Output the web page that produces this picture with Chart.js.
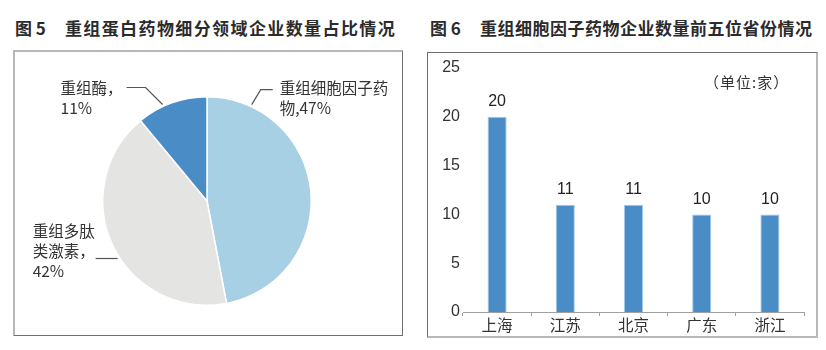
<!DOCTYPE html>
<html>
<head>
	<meta charset="utf-8">
	<title>重组蛋白药物</title>
	<script src="https://cdn.jsdelivr.net/npm/chart.js"></script>
	<style>
		body { margin: 0; background: #fff; font-family: "Noto Sans CJK SC", sans-serif; color: #2b2b2b; }
		#page { position: relative; width: 826px; height: 350px; overflow: hidden; }
		.title { position: absolute; top: 18px; font-size: 17px; line-height: 20px; font-weight: bold; white-space: nowrap; }
		.title .t { margin-left: 19px; }
		.box { position: absolute; box-sizing: border-box; }
		#box1 { left: 13px; top: 50px; width: 390px; height: 286px; border-top: 2px solid #b8b8b8; border-left: 2px solid #b8b8b8; border-right: 1px solid #6e6e6e; border-bottom: 1px solid #6e6e6e; }
		#box2 { left: 427px; top: 52px; width: 391px; height: 286px; border-top: 1px solid #6e6e6e; border-left: 1px solid #6e6e6e; border-right: 2px solid #b8b8b8; border-bottom: 2px solid #b8b8b8; }
		canvas { position: absolute; }
		#unit { position: absolute; left: 704px; top: 72px; font-size: 15px; line-height: 20px; letter-spacing: 1px; color: #333; white-space: nowrap; }
	</style>
</head>
<body>
<div id="page">
	<div class="title" style="left:15px"><span>图 5</span><span class="t" style="letter-spacing:1.4px">重组蛋白药物细分领域企业数量占比情况</span></div>
	<div class="title" style="left:430px"><span>图 6</span><span class="t" style="letter-spacing:0.5px">重组细胞因子药物企业数量前五位省份情况</span></div>
	<div class="box" id="box1"></div>
	<div class="box" id="box2"></div>
	<canvas id="pieChart" width="388" height="284" style="left:14px; top:51px"></canvas>
	<canvas id="barChart" width="388" height="282" style="left:428px; top:54px"></canvas>
	<div id="unit">（单位:家）</div>
</div>
<script>
	// 图5 data
	var pieLabels = ['重组细胞因子药物', '重组多肽类激素', '重组酶'];
	var pieValues = [47, 42, 11];
	var pieLabelLines = [
		['重组细胞因子药', '物,{v}%'],
		['重组多肽', '类激素，', '{v}%'],
		['重组酶，', '{v}%']
	];
	var pieColors = ['#a7d0e5', '#e4e5e3', '#4a8cc6'];

	// 图6 data
	var provinces = ['上海', '江苏', '北京', '广东', '浙江'];
	var companyCounts = [20, 11, 11, 10, 10];
	var yTicks = [0, 5, 10, 15, 20, 25];

	// where each callout leaves the pie and where its text sits (relative to the edge point)
	var callouts = [
		{ frac: 0.147, path: [[9, -15], [21, -15]], tx: 28, ty: -16 },
		{ frac: 0.45, path: [[-22, 0]], tx: -85, ty: -27 },
		{ frac: 0.376, path: [[-17, -17], [-36, -17]], tx: -102, ty: -16 }
	];

	var pieLabelPlugin = {
		id: 'pieCallouts',
		afterDatasetsDraw(chart) {
			var ctx = chart.ctx;
			var meta = chart.getDatasetMeta(0);
			ctx.save();
			ctx.strokeStyle = '#555';
			ctx.lineWidth = 1.2;
			ctx.fillStyle = '#333';
			ctx.font = '15.5px "Noto Sans CJK SC", sans-serif';
			ctx.textBaseline = 'middle';
			ctx.textAlign = 'left';
			meta.data.forEach(function (arc, i) {
				var c = callouts[i];
				var p = arc.getProps(['x', 'y', 'startAngle', 'endAngle', 'outerRadius'], true);
				var a = p.startAngle + (p.endAngle - p.startAngle) * c.frac;
				var r = p.outerRadius + 2;
				var ax = p.x + Math.cos(a) * r, ay = p.y + Math.sin(a) * r;
				ctx.beginPath();
				ctx.moveTo(ax, ay);
				c.path.forEach(function (d) { ctx.lineTo(ax + d[0], ay + d[1]); });
				ctx.stroke();
				pieLabelLines[i].forEach(function (t, k) {
					ctx.fillText(t.replace('{v}', pieValues[i]), ax + c.tx, ay + c.ty + k * 20);
				});
			});
			ctx.restore();
		}
	};

	new Chart(document.getElementById('pieChart'), {
		type: 'pie',
		data: {
			labels: pieLabels,
			datasets: [{
				data: pieValues,
				backgroundColor: pieColors,
				borderColor: '#fff',
				borderWidth: 1.5
			}]
		},
		options: {
			responsive: false,
			animation: false,
			events: [],
			layout: { padding: { top: 45, bottom: 29, left: 88, right: 90 } },
			plugins: { legend: { display: false }, tooltip: { enabled: false } }
		},
		plugins: [pieLabelPlugin]
	});

	var valueLabelPlugin = {
		id: 'valueLabels',
		afterDatasetsDraw(chart) {
			var ctx = chart.ctx;
			ctx.save();
			ctx.fillStyle = '#222';
			ctx.font = '16px "Liberation Sans", Arial, sans-serif';
			ctx.textAlign = 'center';
			ctx.textBaseline = 'middle';
			chart.getDatasetMeta(0).data.forEach(function (bar, i) {
				ctx.fillText(companyCounts[i], bar.x, bar.y - 15);
			});
			ctx.restore();
		}
	};

	new Chart(document.getElementById('barChart'), {
		type: 'bar',
		data: {
			labels: provinces,
			datasets: [{
				data: companyCounts,
				backgroundColor: '#4a8cc6',
				borderColor: '#a3c8e8',
				borderWidth: 1,
				categoryPercentage: 1,
				barPercentage: 0.28
			}]
		},
		options: {
			responsive: false,
			animation: false,
			events: [],
			layout: { padding: { top: 14, right: 12, left: 0, bottom: 0 } },
			plugins: { legend: { display: false }, tooltip: { enabled: false } },
			scales: {
				x: {
					grid: { offset: true, drawOnChartArea: false, drawTicks: true, tickLength: 4, color: '#a0a0a0' },
					border: { color: '#a0a0a0', width: 1 },
					ticks: { padding: 0, color: '#333', font: { size: 15.5, family: '"Noto Sans CJK SC", sans-serif' } },
					afterFit: function (s) { s.height = 24; }
				},
				y: {
					min: yTicks[0],
					max: yTicks[yTicks.length - 1],
					afterBuildTicks: function (s) { s.ticks = yTicks.map(function (v) { return { value: v }; }); },
					grid: { display: false, drawTicks: false },
					border: { display: false },
					ticks: { padding: 3, color: '#333', font: { size: 16, family: '"Liberation Sans", Arial, sans-serif' } },
					afterFit: function (s) { s.width = 35; }
				}
			}
		},
		plugins: [valueLabelPlugin]
	});
</script>
</body>
</html>
